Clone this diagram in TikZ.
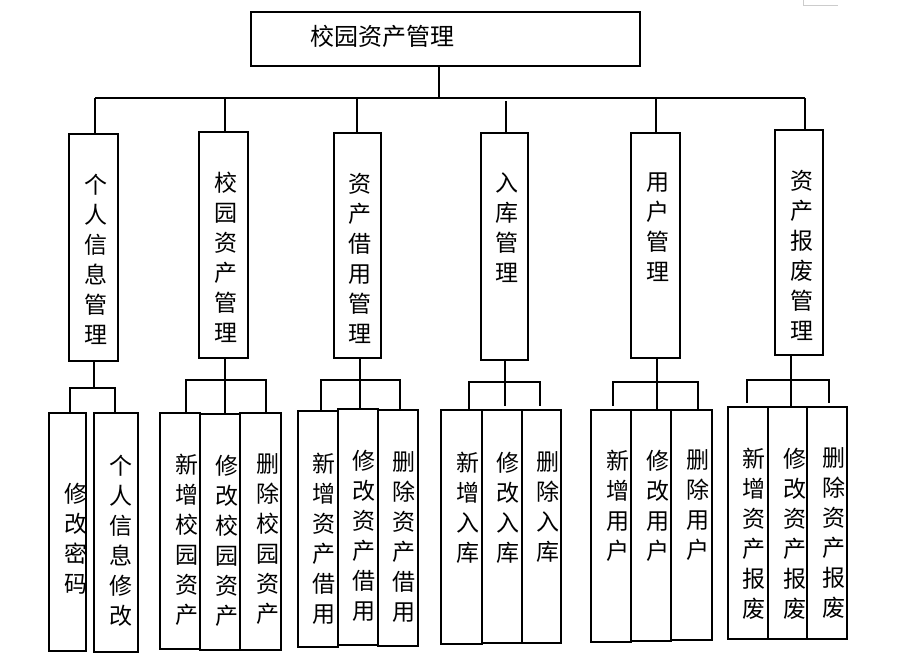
\documentclass[tikz,border=0pt]{standalone}
\usepackage{fontspec}
\setmainfont{Noto Sans CJK SC}
\usepackage{tikz}

\begin{document}
\begin{tikzpicture}[x=1pt,y=-1pt,
            box/.style={rectangle,draw=black,line width=2.6pt,inner sep=0pt},
            vtxt/.style={anchor=north,align=center,inner sep=0pt,font=\fontsize{23}{30}\selectfont},
            link/.style={draw=black,line width=2pt}]
            \useasboundingbox (0,0) rectangle (909,665);
            \draw[gray!40,line width=1pt] (803,0) -- (803,5) -- (838,5);

            \node[box,minimum width=389,minimum height=54] (root) at (445.5,39) {};
            \node[inner sep=0pt,font=\fontsize{24}{28}\selectfont] (roott) at (382,36) {校园资产管理};

            \node[box,minimum width=49,minimum height=227] (m1) at (93.5,247.5) {};
            \node[box,minimum width=49,minimum height=226] (m2) at (223.5,245) {};
            \node[box,minimum width=47,minimum height=225] (m3) at (357.5,245.5) {};
            \node[box,minimum width=47,minimum height=227] (m4) at (504.5,246.5) {};
            \node[box,minimum width=49,minimum height=225] (m5) at (655.5,245.5) {};
            \node[box,minimum width=48,minimum height=225] (m6) at (799,242.5) {};
            \node[vtxt] (m1t) at ([xshift=2.5pt,yshift=-41pt]m1.north) {个\\人\\信\\息\\管\\理};
            \node[vtxt] (m2t) at ([xshift=2.5pt,yshift=-41pt]m2.north) {校\\园\\资\\产\\管\\理};
            \node[vtxt] (m3t) at ([xshift=2.5pt,yshift=-41pt]m3.north) {资\\产\\借\\用\\管\\理};
            \node[vtxt] (m4t) at ([xshift=2.5pt,yshift=-41pt]m4.north) {入\\库\\管\\理};
            \node[vtxt] (m5t) at ([xshift=2.5pt,yshift=-41pt]m5.north) {用\\户\\管\\理};
            \node[vtxt] (m6t) at ([xshift=2.5pt,yshift=-41pt]m6.north) {资\\产\\报\\废\\管\\理};

            \node[box,minimum width=37,minimum height=238] (c11) at (67.5,532) {};
            \node[box,minimum width=44,minimum height=239] (c12) at (116,532.5) {};
            \node[box,minimum width=40,minimum height=236] (c21) at (180,531) {};
            \node[box,minimum width=40,minimum height=236] (c22) at (220,532) {};
            \node[box,minimum width=41,minimum height=237] (c23) at (260.5,531.5) {};
            \node[box,minimum width=40,minimum height=236] (c31) at (318,529) {};
            \node[box,minimum width=40,minimum height=236] (c32) at (358,527) {};
            \node[box,minimum width=40,minimum height=236] (c33) at (398,528) {};
            \node[box,minimum width=41,minimum height=234] (c41) at (461.5,527) {};
            \node[box,minimum width=40,minimum height=233] (c42) at (502,526.5) {};
            \node[box,minimum width=39,minimum height=233] (c43) at (541.5,526.5) {};
            \node[box,minimum width=40,minimum height=232] (c51) at (611,526) {};
            \node[box,minimum width=40,minimum height=231] (c52) at (651,525.5) {};
            \node[box,minimum width=41,minimum height=230] (c53) at (691.5,525) {};
            \node[box,minimum width=40,minimum height=232] (c61) at (748,523) {};
            \node[box,minimum width=39,minimum height=232] (c62) at (787.5,523) {};
            \node[box,minimum width=40,minimum height=232] (c63) at (827,523) {};

            \node[vtxt] (c11t) at ([xshift=8pt,yshift=-71pt]c11.north) {修\\改\\密\\码};
            \node[vtxt] (c12t) at ([xshift=5pt,yshift=-43pt]c12.north) {个\\人\\信\\息\\修\\改};
            \node[vtxt] (c21t) at ([xshift=7pt,yshift=-42pt]c21.north) {新\\增\\校\\园\\资\\产};
            \node[vtxt] (c22t) at ([xshift=7pt,yshift=-42pt]c22.north) {修\\改\\校\\园\\资\\产};
            \node[vtxt] (c23t) at ([xshift=7pt,yshift=-42pt]c23.north) {删\\除\\校\\园\\资\\产};
            \node[vtxt] (c31t) at ([xshift=6pt,yshift=-43pt]c31.north) {新\\增\\资\\产\\借\\用};
            \node[vtxt] (c32t) at ([xshift=6pt,yshift=-42pt]c32.north) {修\\改\\资\\产\\借\\用};
            \node[vtxt] (c33t) at ([xshift=6pt,yshift=-43pt]c33.north) {删\\除\\资\\产\\借\\用};
            \node[vtxt] (c41t) at ([xshift=6pt,yshift=-43pt]c41.north) {新\\增\\入\\库};
            \node[vtxt] (c42t) at ([xshift=6pt,yshift=-43pt]c42.north) {修\\改\\入\\库};
            \node[vtxt] (c43t) at ([xshift=6pt,yshift=-43pt]c43.north) {删\\除\\入\\库};
            \node[vtxt] (c51t) at ([xshift=7pt,yshift=-41pt]c51.north) {新\\增\\用\\户};
            \node[vtxt] (c52t) at ([xshift=7pt,yshift=-41pt]c52.north) {修\\改\\用\\户};
            \node[vtxt] (c53t) at ([xshift=6pt,yshift=-41pt]c53.north) {删\\除\\用\\户};
            \node[vtxt] (c61t) at ([xshift=6pt,yshift=-42pt]c61.north) {新\\增\\资\\产\\报\\废};
            \node[vtxt] (c62t) at ([xshift=7pt,yshift=-42pt]c62.north) {修\\改\\资\\产\\报\\废};
            \node[vtxt] (c63t) at ([xshift=7pt,yshift=-42pt]c63.north) {删\\除\\资\\产\\报\\废};

            \coordinate (rj) at (439,98);
            \coordinate (b1) at (95,98);
            \coordinate (b2) at (225,98);
            \coordinate (b3) at (357,98);
            \coordinate (b4) at (506,98);
            \coordinate (b5) at (656,98);
            \coordinate (b6) at (805,98);
            \draw[link] (root.south -| rj) -- (rj);
            \draw[link] (b1) -- (b6);
            \draw[link] (b1) -- (b1 |- m1.north);
            \draw[link] (b2) -- (b2 |- m2.north);
            \draw[link] (b3) -- (b3 |- m3.north);
            \draw[link] ([yshift=-3pt]b4) -- (b4 |- m4.north);
            \draw[link] (b5) -- (b5 |- m5.north);
            \draw[link] (b6) -- (b6 |- m6.north);

            \coordinate (g1l) at (70,388);
            \coordinate (g1m) at (94,388);
            \coordinate (g1r) at (115,388);
            \draw[link] (m1.south -| g1m) -- (g1m);
            \draw[link] (g1l |- c11.north) |- (g1r) -- (g1r |- c12.north);

            \coordinate (g2l) at (186,380);
            \coordinate (g2m) at (225,380);
            \coordinate (g2r) at (266,380);
            \draw[link] (m2.south -| g2m) -- (g2m |- c22.north);
            \draw[link] (g2l |- c21.north) |- (g2r) -- (g2r |- c23.north);

            \coordinate (g3l) at (321,380);
            \coordinate (g3m) at (360,380);
            \coordinate (g3r) at (400,380);
            \draw[link] (m3.south -| g3m) -- (g3m |- c32.north);
            \draw[link] (g3l |- c31.north) |- (g3r) -- (g3r |- c33.north);

            \coordinate (g4l) at (469,382);
            \coordinate (g4m) at (505,382);
            \coordinate (g4r) at (540,382);
            \draw[link] (m4.south -| g4m) -- ([yshift=3pt]g4m |- c42.north);
            \draw[link] (g4l |- c41.north) |- (g4r) -- ([yshift=3pt]g4r |- c43.north);

            \coordinate (g5l) at (613,382);
            \coordinate (g5m) at (657,382);
            \coordinate (g5r) at (698,382);
            \draw[link] (m5.south -| g5m) -- (g5m |- c52.north);
            \draw[link] ([yshift=3pt]g5l |- c51.north) |- (g5r) -- (g5r |- c53.north);

            \coordinate (g6l) at (747,380);
            \coordinate (g6m) at (791,380);
            \coordinate (g6r) at (829,380);
            \draw[link] (m6.south -| g6m) -- (g6m |- c62.north);
            \draw[link] ([yshift=3pt]g6l |- c61.north) |- (g6r) -- ([yshift=3pt]g6r |- c63.north);
\end{tikzpicture}
\end{document}
